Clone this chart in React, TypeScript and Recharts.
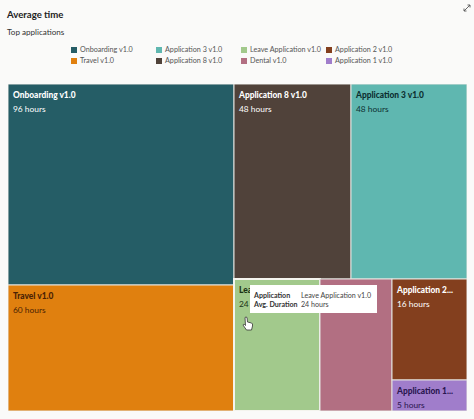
import React from "react";
import { Treemap } from "recharts";

const names = ["Onboarding v1.0", "Travel v1.0", "Application 8 v1.0", "Application 3 v1.0", "Leave Application v1.0", "Dental v1.0", "Application 2 v1.0", "Application 1 v1.0"];
const hours = [96, 60, 48, 48, 24, 20, 16, 5];
const labels = ["Onboarding v1.0", "Travel v1.0", "Application 8 v1.0", "Application 3 v1.0", "Leave Application v1.0", "Dental v1.0", "Application 2...", "Application 1..."];
const fills = ["#255d66", "#e0800f", "#50423a", "#5fb7b0", "#a2c98c", "#b26f82", "#833f1e", "#a07dcb"];
const inks = ["#ffffff", "#4a2205", "#ffffff", "#0d2f30", "#1c3314", "#ffffff", "#ffffff", "#2a1650"];
const legendOrder = [0, 3, 4, 6, 1, 2, 5, 7];
const legendColumns = [71, 156, 241, 326];
const legendRows = [49.5, 60.5];

const data = names.map((name, i) => ({ name, size: hours[i], label: labels[i], fill: fills[i], ink: inks[i] }));
const FONT = "Lato, 'Noto Sans', sans-serif";

function Cell(props: any) {
  const { x, y, width, height, label, fill, ink, size, depth } = props;
  if (depth !== 1) return null;
  const hovered = label === labels[4];
  return (
    <g>
      <rect x={x} y={y} width={width} height={height} fill={fill} stroke={hovered ? "#f4f4ee" : "#e4e4df"} strokeWidth={hovered ? 2 : 1} />
      <text x={x + 5} y={y + 14} fill={ink} stroke="none" fontFamily={FONT} fontSize={8.4} fontWeight={900}>{label}</text>
      <text x={x + 5} y={y + 28} fill={ink} stroke="none" fontFamily={FONT} fontSize={8.4}>{size} hours</text>
    </g>
  );
}

export default function App() {
  return (
    <div style={{ position: "fixed", left: 0, top: 0, width: 474, height: 419, background: "#fafaf9", fontFamily: FONT, overflow: "hidden" }}>
      <div style={{ position: "absolute", left: 7, top: 9, fontSize: 9.6, fontWeight: 700, color: "#222" }}>Average time</div>
      <div style={{ position: "absolute", left: 7, top: 27, fontSize: 8.1, color: "#333" }}>Top applications</div>
      <svg style={{ position: "absolute", left: 462, top: 3 }} width={10} height={10} viewBox="0 0 10 10">
        <path d="M2 8 L8 2 M5.5 2 H8 V4.5 M2 5.5 V8 H4.5" fill="none" stroke="#555" strokeWidth={0.9} />
      </svg>
      {legendOrder.map((idx, k) => {
        const left = legendColumns[k % 4];
        const top = legendRows[Math.floor(k / 4)];
        return (
          <React.Fragment key={idx}>
            <div style={{ position: "absolute", left, top: top - 3, width: 6, height: 6, background: fills[idx] }} />
            <div style={{ position: "absolute", left: left + 9, top: top - 5.5, fontSize: 7.2, lineHeight: "11px", color: "#555", whiteSpace: "nowrap" }}>{names[idx]}</div>
          </React.Fragment>
        );
      })}
      <div style={{ position: "absolute", left: 8, top: 84 }}>
        <Treemap width={459} height={327} data={data} dataKey="size" nameKey="name" aspectRatio={1} stroke="#e4e4df" content={<Cell />} isAnimationActive={false} />
      </div>
      <div style={{ position: "absolute", left: 250, top: 285, width: 127, height: 28, background: "#ffffff", fontSize: 7.1, lineHeight: "9px", color: "#444" }}>
        <div style={{ position: "absolute", left: 4, top: 6, fontWeight: 700, color: "#333" }}>Application</div>
        <div style={{ position: "absolute", left: 51, top: 6, whiteSpace: "nowrap" }}>{names[4]}</div>
        <div style={{ position: "absolute", left: 4, top: 15, fontWeight: 700, color: "#333", whiteSpace: "nowrap" }}>Avg. Duration</div>
        <div style={{ position: "absolute", left: 51, top: 15 }}>{hours[4]} hours</div>
      </div>
      <svg style={{ position: "absolute", left: 242, top: 316 }} width={12} height={16} viewBox="0 0 12 16">
        <path d="M3 1.5 Q4 0.5 5 1.5 L5.5 6 L9.5 7 Q11 7.5 10.5 10 L9.5 14 H4.5 L1 9 Q1 8 2.5 8.5 L3.5 9.5 Z" fill="#fff" stroke="#333" strokeWidth={0.8} />
      </svg>
    </div>
  );
}
